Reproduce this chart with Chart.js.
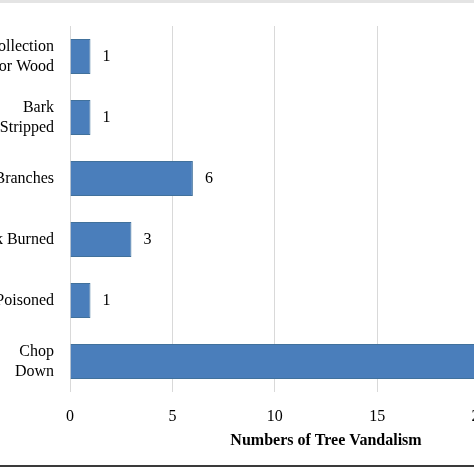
<!DOCTYPE html>
<html>
<head>
<meta charset="utf-8">
<script src="https://cdn.jsdelivr.net/npm/chart.js@4"></script>
<style>
    html, body { margin: 0; padding: 0; background: #fff; }
    body { width: 474px; height: 474px; overflow: hidden; position: relative; }
    #topBand { position: absolute; left: 0; top: 0; width: 474px; height: 3px; background: #e4e4e4; }
    #bottomRule { position: absolute; left: 0; top: 465px; width: 474px; height: 2px; background: #3a3a3a; }
    #wrap { position: absolute; left: -60px; top: 0; width: 662px; height: 454px; }
</style>
</head>
<body>
<div id="topBand"></div>
<div id="wrap"><canvas id="vandalismChart"></canvas></div>
<div id="bottomRule"></div>
<script>
const categories = [
    ["Collection", "for Wood"],
    ["Bark", "Stripped"],
    "Cut Branches",
    "Trunk Burned",
    "Poisoned",
    ["Chop", "Down"]
];
const counts = [1, 1, 6, 3, 1, 23];
const xTicks = [0, 5, 10, 15, 20, 25];

const serif = "'Liberation Serif', 'Times New Roman', serif";

// value labels to the right of each bar
const barValues = {
    id: "barValues",
    afterDatasetsDraw(chart) {
        const ctx = chart.ctx;
        const meta = chart.getDatasetMeta(0);
        ctx.save();
        ctx.font = "16px " + serif;
        ctx.fillStyle = "#000";
        ctx.textAlign = "left";
        ctx.textBaseline = "middle";
        meta.data.forEach((bar, i) => {
            ctx.fillText(String(counts[i]), bar.x + 12, bar.y);
        });
        ctx.restore();
    }
};

new Chart(document.getElementById("vandalismChart"), {
    type: "bar",
    data: {
        labels: categories,
        datasets: [{
            data: counts,
            backgroundColor: "#4a7ebb",
            borderColor: "#41719c",
            borderWidth: 1,
            barPercentage: 0.57,
            categoryPercentage: 1
        }]
    },
    options: {
        indexAxis: "y",
        responsive: true,
        maintainAspectRatio: false,
        animation: false,
        layout: { padding: { top: 26, right: 20, left: 0, bottom: 0 } },
        plugins: {
            legend: { display: false },
            tooltip: { enabled: false }
        },
        scales: {
            x: {
                min: xTicks[0],
                max: xTicks[xTicks.length - 1],
                afterBuildTicks: scale => { scale.ticks = xTicks.map(v => ({ value: v })); },
                afterFit: scale => {
                    scale.height = 62;
                    scale.paddingLeft = 0;
                    scale.paddingRight = 0;
                },
                grid: { color: "#d9d9d9", drawTicks: false },
                border: { display: false },
                ticks: { padding: 15, color: "#000", font: { family: serif, size: 16 } },
                title: {
                    display: true,
                    text: "Numbers of Tree Vandalism",
                    color: "#000",
                    font: { family: serif, size: 16, weight: "bold" },
                    padding: { top: 7, bottom: 4 }
                }
            },
            y: {
                afterFit: scale => {
                    scale.width = 130;
                    scale.paddingTop = 0;
                    scale.paddingBottom = 0;
                },
                grid: { display: false, drawTicks: false },
                border: { display: false },
                ticks: { padding: 16, color: "#000", font: { family: serif, size: 16, lineHeight: 1.25 } }
            }
        }
    },
    plugins: [barValues]
});
</script>
</body>
</html>
